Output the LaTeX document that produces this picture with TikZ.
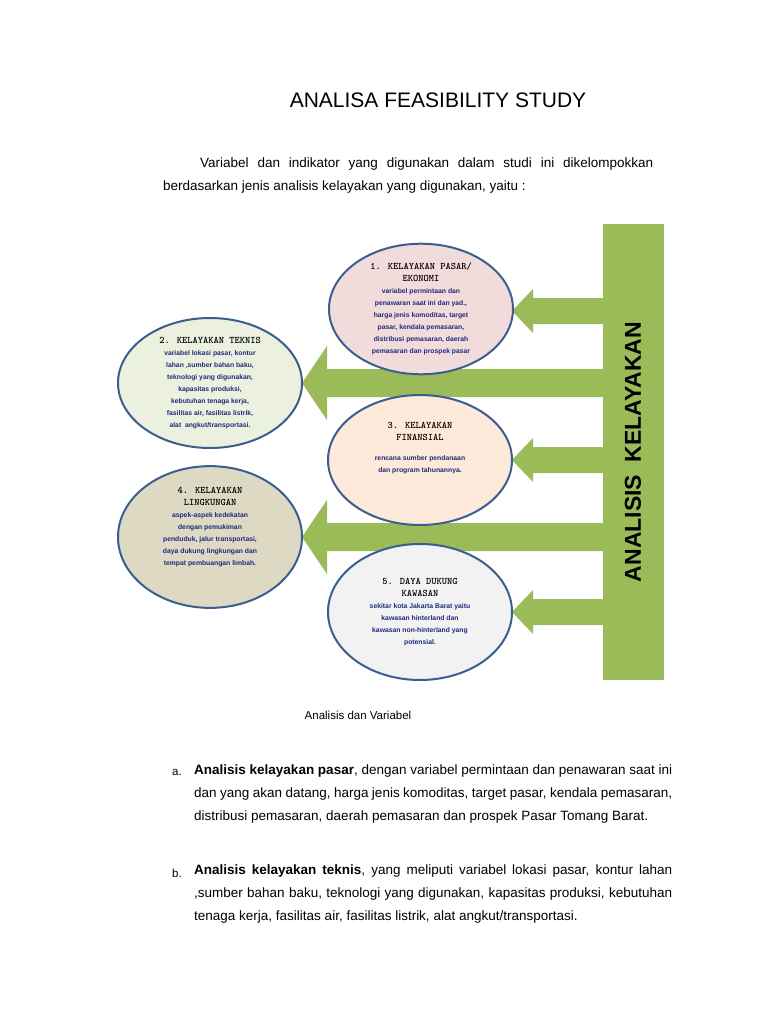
\documentclass[tikz,border=0pt]{standalone}
\usepackage{fontspec}
\setmainfont{Liberation Sans}
\usetikzlibrary{shapes.geometric}
\definecolor{grn}{HTML}{9BBB59}
\definecolor{edge}{HTML}{3A5F8F}
\definecolor{bodyblue}{HTML}{1F2A7A}
\tikzset{
  ell/.style={ellipse,draw=edge,line width=2pt,minimum width=184pt,minimum height=130pt,align=center,inner sep=0pt},
  tt/.style={font=\fontsize{8.5}{10}\selectfont},
  para/.style={anchor=north west,align=justify,inner sep=0pt,font=\fontsize{13.5}{23}\selectfont}
}
\newcommand{\bd}[1]{{\fontsize{6.8}{9.2}\selectfont\bfseries\color{bodyblue}#1}}
\newcommand{\smallarrow}[1]{\fill[grn] (603,#1-13) -- (533,#1-13) -- (533,#1-22) -- (512,#1) -- (533,#1+22) -- (533,#1+13) -- (603,#1+13) -- cycle;}
\newcommand{\bigarrow}[1]{\fill[grn] (603,#1-14) -- (327,#1-14) -- (327,#1-37) -- (302,#1) -- (327,#1+37) -- (327,#1+14) -- (603,#1+14) -- cycle;}
\begin{document}
\begin{tikzpicture}[x=1pt,y=-1pt]
\useasboundingbox (0,0) rectangle (768,1024);
\node (title) at (438,100) {\fontsize{21}{24}\selectfont ANALISA FEASIBILITY STUDY};
\node[para,text width=490pt] (intro) at (163,158) {\hspace*{37pt}Variabel dan indikator yang digunakan dalam studi ini dikelompokkan berdasarkan jenis analisis kelayakan yang digunakan, yaitu :};
\smallarrow{311}
\smallarrow{460}
\smallarrow{612}
\bigarrow{383}
\bigarrow{537}
\fill[grn] (603,224) rectangle (664,680);
\node[rotate=90,font=\fontsize{23}{26}\selectfont\bfseries] (bar) at (633,452) {ANALISIS\ \ KELAYAKAN};
\node[ell,fill={rgb,255:red,242;green,220;blue,219}] (e1) at (421,309) {\tt\textbf{1. KELAYAKAN PASAR/}\\\tt\textbf{EKONOMI}\\\bd{variabel permintaan dan}\\\bd{penawaran saat ini dan yad.,}\\\bd{harga jenis komoditas, target}\\\bd{pasar, kendala pemasaran,}\\\bd{distribusi pemasaran, daerah}\\\bd{pemasaran dan prospek pasar}};
\node[ell,fill={rgb,255:red,235;green,241;blue,222}] (e2) at (210,383) {\tt\textbf{2. KELAYAKAN TEKNIS}\\\bd{variabel lokasi pasar, kontur}\\\bd{lahan ,sumber bahan baku,}\\\bd{teknologi yang digunakan,}\\\bd{kapasitas produksi,}\\\bd{kebutuhan tenaga kerja,}\\\bd{fasilitas air, fasilitas listrik,}\\\bd{alat\ \ angkut/transportasi.}};
\node[ell,fill={rgb,255:red,253;green,233;blue,217}] (e3) at (420,460) {\tt\textbf{3. KELAYAKAN}\\\tt\textbf{FINANSIAL}\\[8pt]\bd{rencana sumber pendanaan}\\\bd{dan program tahunannya.}\\[14pt]};
\node[ell,fill={rgb,255:red,221;green,217;blue,195},minimum height=136pt] (e4) at (210,537) {\tt\textbf{4. KELAYAKAN}\\\tt\textbf{LINGKUNGAN}\\\bd{aspek-aspek kedekatan}\\\bd{dengan pemukiman}\\\bd{penduduk, jalur transportasi,}\\\bd{daya dukung lingkungan dan}\\\bd{tempat pembuangan limbah.}\\[10pt]};
\node[ell,fill={rgb,255:red,242;green,242;blue,242},minimum height=136pt] (e5) at (420,612) {\tt\textbf{5. DAYA DUKUNG}\\\tt\textbf{KAWASAN}\\\bd{sekitar kota Jakarta Barat yaitu}\\\bd{kawasan hinterland dan}\\\bd{kawasan non-hinterland yang}\\\bd{potensial.}};
\node (cap) at (358,715) {\fontsize{11.5}{14}\selectfont Analisis dan Variabel};
\node[anchor=north west,inner sep=0pt,font=\fontsize{11.5}{14}\selectfont] (la) at (172,769) {a.};
\node[para,text width=478pt] (ta) at (194,765) {\textbf{Analisis kelayakan pasar}, dengan variabel permintaan dan penawaran saat ini dan yang akan datang, harga jenis komoditas, target pasar, kendala pemasaran, distribusi pemasaran, daerah pemasaran dan prospek Pasar Tomang Barat.};
\node[anchor=north west,inner sep=0pt,font=\fontsize{11.5}{14}\selectfont] (lb) at (172,869) {b.};
\node[para,text width=478pt] (tb) at (194,865) {\textbf{Analisis kelayakan teknis}, yang meliputi variabel lokasi pasar, kontur lahan ,sumber bahan baku, teknologi yang digunakan, kapasitas produksi, kebutuhan tenaga kerja, fasilitas air, fasilitas listrik, alat angkut/transportasi.};
\end{tikzpicture}
\end{document}
